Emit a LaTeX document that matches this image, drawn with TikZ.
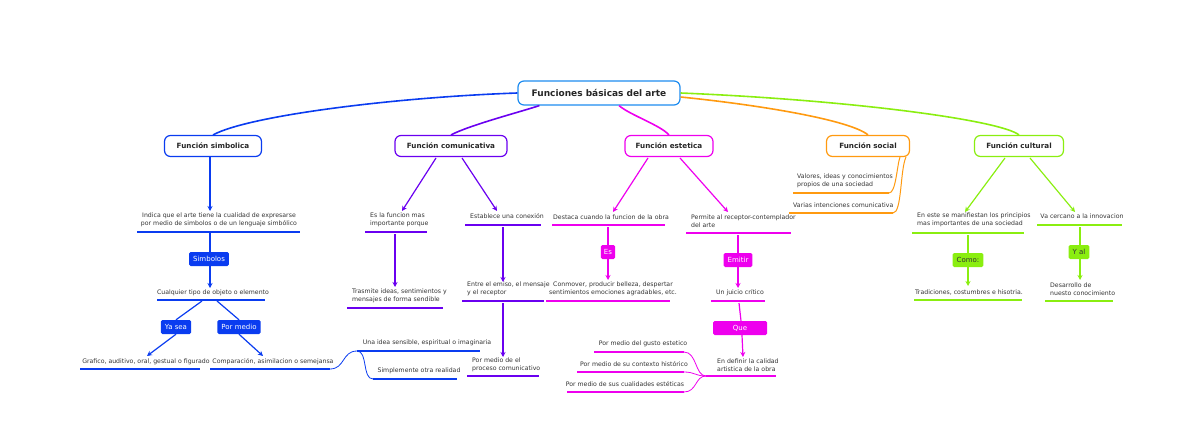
\documentclass[tikz,border=0pt]{standalone}
\usepackage{fontspec}
\setmainfont{DejaVu Sans}
\usetikzlibrary{arrows.meta}
\definecolor{cblue}{HTML}{0A3CF0}
\definecolor{cpur}{HTML}{6A00F0}
\definecolor{cmag}{HTML}{EE00EE}
\definecolor{corg}{HTML}{FF9A10}
\definecolor{cgrn}{HTML}{8AEE10}
\definecolor{croot}{HTML}{1E8CF0}
\definecolor{ctxt}{HTML}{333333}
\begin{document}
\begin{tikzpicture}[x=1pt,y=-1pt,
  root/.style={draw=croot,line width=1.2pt,rounded corners=6pt,fill=white,minimum width=162pt,minimum height=24pt,font=\fontsize{9}{10}\selectfont\bfseries,text=black!85},
  br/.style={draw=#1,line width=1.2pt,rounded corners=6pt,fill=white,minimum height=21pt,font=\fontsize{7.2}{8}\selectfont\bfseries,text=black!85},
  lab/.style={fill=#1,rounded corners=1.5pt,text=white,font=\fontsize{7}{8}\selectfont,minimum height=14pt,inner xsep=4pt},
  t/.style={font=\fontsize{6.2}{8}\selectfont,text=ctxt,inner sep=0pt,align=left},
  ul/.style={draw=#1,line width=1.4pt},
  ar/.style={draw=#1,line width=1.2pt,-{Stealth[length=5pt,width=5pt]}},
  ln/.style={draw=#1,line width=1.2pt},
  cv/.style={draw=#1,line width=1.6pt}]
\useasboundingbox (0,0) rectangle (1200,444);
% root and branches
\node[root] (R) at (599,93) {Funciones básicas del arte};
\node[br=cblue,minimum width=97pt] (S) at (213,146) {Función simbolica};
\node[br=cpur,minimum width=112pt] (C) at (451,146) {Función comunicativa};
\node[br=cmag,minimum width=88pt] (E) at (669,146) {Función estetica};
\node[br=corg,minimum width=83pt] (So) at (868,146) {Función social};
\node[br=cgrn,minimum width=89pt] (Cu) at (1019,146) {Función cultural};
\draw[cv=cblue] (R.west) .. controls (400,97) and (250,115) .. (S.north);
\draw[cv=cpur] (R.south west) ++(22,0) .. controls (520,112) and (470,125) .. (C.north);
\draw[cv=cmag] (R.south) ++(20,0) .. controls (630,115) and (660,125) .. (E.north);
\draw[cv=corg] (R.east) ++(0,4) .. controls (760,105) and (850,120) .. (So.north);
\draw[cv=cgrn] (R.east) .. controls (850,100) and (1000,120) .. (Cu.north);

% ---- simbolica
\node[t,align=center] (s1) at (219,220) {Indica que el arte tiene la cualidad de expresarse\\por medio de simbolos o de un lenguaje simbólico};
\draw[ul=cblue] (137,232) -- (300,232);
\node[lab=cblue] (Sim) at (209,259) {Simbolos};
\draw[ln=cblue] (210,232) -- (Sim.north -| 210,0);
\node[t] (s2) at (213,293) {Cualquier tipo de objeto o elemento};
\draw[ul=cblue] (157,300) -- (265,300);
\draw[ar=cblue] (Sim.south -| 210,0) -- (210,288);
\node[lab=cblue] (Ya) at (176,327) {Ya sea};
\node[lab=cblue] (Pm) at (239,327) {Por medio};
\draw[ln=cblue] (202,301) -- (Ya.north);
\draw[ln=cblue] (217,301) -- (Pm.north);
\node[t] (s3) at (146,362) {Grafico, auditivo, oral, gestual o figurado};
\node[t] (s4) at (273,362) {Comparación, asimilacion o semejansa};
\draw[ar=cblue] (Ya.south) -- (147,356);
\draw[ar=cblue] (Pm.south) -- (263,356);
\draw[ul=cblue] (80,369) -- (200,369);
\draw[ul=cblue] (210,369) -- (330,369);
\node[t] (s5) at (427,343) {Una idea sensible, espiritual o imaginaria};
\node[t] (s6) at (419,371) {Simplemente otra realidad};
\draw[ul=cblue] (357,351) -- (480,351);
\draw[ul=cblue] (373,379) -- (457,379);
\draw[draw=cblue,line width=0.8pt] (330,369) .. controls (345,369) and (342,351) .. (357,351);
\draw[draw=cblue,line width=0.8pt] (357,351) .. controls (368,351) and (362,379) .. (373,379);
\draw[ar=cblue] (S.south -| 210,0) -- (210,211);

% ---- comunicativa
\node[t,anchor=west] (c1) at (370,220) {Es la funcion mas\\importante porque};
\draw[ul=cpur] (365,232) -- (427,232);
\node[t,anchor=west] (c2) at (352,296) {Trasmite ideas, sentimientos y\\mensajes de forma sendible};
\draw[ul=cpur] (347,308) -- (443,308);
\node[t,anchor=west] (c3) at (470,216) {Establece una conexión};
\draw[ul=cpur] (465,225) -- (541,225);
\node[t,anchor=west] (c4) at (467,289) {Entre el emiso, el mensaje\\y el receptor};
\draw[ul=cpur] (462,301) -- (544,301);
\node[t,anchor=west] (c5) at (472,365) {Por medio de el\\proceso comunicativo};
\draw[ul=cpur] (467,376) -- (539,376);
\draw[ar=cpur] (436,158) -- (402,211);
\draw[ar=cpur] (462,158) -- (497,211);
\draw[ar=cpur] (395,234) -- (395,287);
\draw[ar=cpur] (503,227) -- (503,282);
\draw[ar=cpur] (503,303) -- (503,357);

% ---- estetica
\node[t] (e1) at (611,217) {Destaca cuando la funcion de la obra};
\draw[ul=cmag] (552,225) -- (665,225);
\node[lab=cmag,inner xsep=3pt] (Es) at (608,252) {Es};
\draw[ln=cmag] (608,227) -- (Es.north);
\node[t,align=center] (e2) at (613,289) {Conmover, producir belleza, despertar\\sentimientos emociones agradables, etc.};
\draw[ul=cmag] (546,301) -- (670,301);
\draw[ar=cmag] (Es.south) -- (608,280);
\node[t,anchor=west] (e3) at (691,221) {Permite al receptor-contemplador\\del arte};
\draw[ul=cmag] (686,233) -- (791,233);
\node[lab=cmag] (Em) at (738,260) {Emitir};
\draw[ln=cmag] (738,235) -- (Em.north);
\node[t] (e4) at (740,293) {Un juicio crítico};
\draw[ul=cmag] (711,301) -- (765,301);
\draw[ar=cmag] (Em.south) -- (738,288);
\node[lab=cmag,minimum width=54pt] (Q) at (740,328) {Que};
\draw[ln=cmag] (739,303) -- (Q.north -| 741,0);
\draw[ar=cmag] (Q.south -| 742,0) -- (743,357);
\node[t,anchor=west] (e5) at (717,365) {En definir la calidad\\artistica de la obra};
\draw[ul=cmag] (706,376) -- (776,376);
\node[t] (g1) at (643,344) {Por medio del gusto estetico};
\node[t] (g2) at (634,364) {Por medio de su contexto histórico};
\node[t] (g3) at (625,384) {Por medio de sus cualidades estéticas};
\draw[ul=cmag] (594,352) -- (684,352);
\draw[ul=cmag] (577,372) -- (684,372);
\draw[ul=cmag] (567,392) -- (684,392);
\draw[draw=cmag,line width=0.8pt] (706,376) .. controls (695,376) and (697,352) .. (684,352);
\draw[draw=cmag,line width=0.8pt] (706,376) .. controls (695,376) and (695,372) .. (684,372);
\draw[draw=cmag,line width=0.8pt] (706,376) .. controls (695,376) and (697,392) .. (684,392);
\draw[ar=cmag] (648,158) -- (613,212);
\draw[ar=cmag] (680,158) -- (728,212);

% ---- social
\node[t,anchor=west] (o1) at (797,181) {Valores, ideas y conocimientos\\propios de una sociedad};
\node[t,anchor=west] (o2) at (793,205) {Varias intenciones comunicativa};
\draw[ul=corg] (793,193) -- (889,193);
\draw[ul=corg] (789,213) -- (893,213);
\draw[draw=corg,line width=1pt] (900,157) .. controls (897,165) and (896,193) .. (889,193);
\draw[draw=corg,line width=1pt] (906,157) .. controls (900,170) and (902,213) .. (893,213);

% ---- cultural
\node[t,anchor=west] (u1) at (917,220) {En este se manifiestan los principios\\mas importantes de una sociedad};
\draw[ul=cgrn] (912,233) -- (1024,233);
\node[lab=cgrn,text=black!80] (Co) at (968,260) {Como:};
\draw[ln=cgrn] (968,235) -- (Co.north);
\node[t] (u2) at (969,293) {Tradiciones, costumbres e hisotria.};
\draw[ul=cgrn] (914,300) -- (1022,300);
\draw[ar=cgrn] (Co.south) -- (968,286);
\node[t] (u3) at (1082,216) {Va cercano a la innovacion};
\draw[ul=cgrn] (1037,225) -- (1122,225);
\node[lab=cgrn,text=black!80] (Y) at (1079,252) {Y al};
\draw[ln=cgrn] (1080,227) -- (Y.north -| 1080,0);
\node[t,anchor=west] (u4) at (1050,289) {Desarrollo de\\nuesto conocimiento};
\draw[ul=cgrn] (1045,301) -- (1113,301);
\draw[ar=cgrn] (Y.south -| 1080,0) -- (1080,280);
\draw[ar=cgrn] (1005,158) -- (965,212);
\draw[ar=cgrn] (1030,158) -- (1075,212);
\end{tikzpicture}
\end{document}
